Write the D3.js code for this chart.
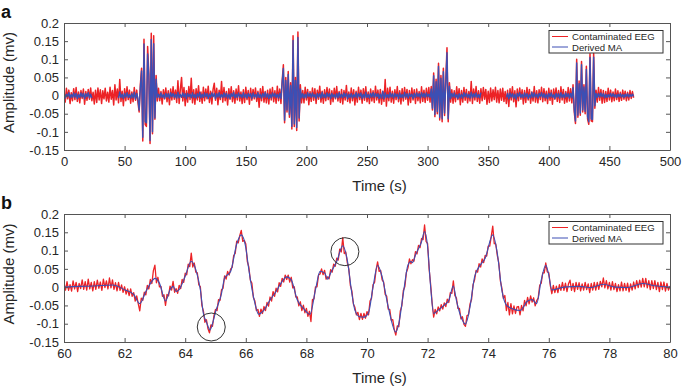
<!DOCTYPE html>
<html lang="en">
<head>
<meta charset="UTF-8">
<title>Contaminated EEG and derived MA</title>
<script src="https://d3js.org/d3.v7.min.js"></script>
<style>
    body { margin: 0; background: #fff; }
    svg { font-family: "Liberation Sans", Arial, Helvetica, sans-serif; }
</style>
</head>
<body>
<div id="chart"></div>
<script>
// ---- data (amplitudes in microvolts, i.e. mv * 1000) ----

// panel a: one sample per second, t = 0 .. 470 s
var eegA = [
    12,-18,20,-9,15,-22,8,-14,19,-11,
    22,-16,10,-20,14,-8,18,-24,11,-13,
    17,-10,21,-14,9,-23,15,-19,21,-12,
    16,-22,13,-9,20,-15,9,-18,23,-10,
    14,-26,30,-12,18,-20,44,-16,12,-28,
    19,-14,24,-11,15,-21,10,-17,22,-13,
    15,-18,-45,30,75,-125,155,-80,-85,135,60,-132,172,-105,165,-65,55,-15,
    20,-14,11,-23,16,-9,21,-17,13,-25,
    18,-12,24,-10,15,-19,41,-22,17,50,
    -15,22,-28,13,-18,25,-11,48,-20,16,
    -24,19,-12,27,-16,10,-21,23,-14,18,
    -9,26,-19,12,-23,17,34,-13,20,-25,
    15,-11,39,-18,22,-14,11,-26,19,-10,
    24,-17,13,-21,18,-12,27,-15,10,-22,
    16,-19,23,-11,14,-24,20,-13,17,-9,
    21,-16,12,-32,19,-14,25,-18,11,-20,
    15,-23,18,-12,22,-17,13,-21,26,-14,
    18,
    -22,40,85,-75,50,-45,66,-60,35,-92,165,-85,50,-96,175,-70,30,-20,
    14,-20,23,-12,17,-25,11,-16,21,-13,
    19,-22,15,-10,26,-18,12,-21,16,-14,
    22,-11,18,-24,13,-17,20,-9,25,-15,
    11,-19,17,-23,14,-12,28,-16,10,-20,
    21,-14,16,-26,12,-18,23,-11,15,-21,
    19,-13,24,-17,10,-22,18,-15,13,-19,
    26,-12,15,-20,17,-24,11,-16,44,-29,
    20,-14,23,-18,12,-21,16,-11,25,-17,
    13,-23,19,-15,22,-10,17,-26,14,-19,
    21,-12,16,-22,18,-14,11,-20,24,-16,
    15,-19,20,-13,22,
    -18,25,-40,62,-58,45,-50,89,-67,55,-72,75,-55,40,132,-72,35,-18,
    16,-21,13,-17,24,-11,19,-25,14,-18,
    22,-13,17,-20,11,-15,39,-22,18,-12,
    25,-16,13,-21,19,-14,22,-10,17,-24,
    12,-19,21,-15,16,-11,23,-18,14,-20,
    18,-13,20,-16,11,-22,15,-30,19,-12,
    24,-17,13,-31,18,-14,21,-10,16,-23,
    14,-19,22,-12,17,-21,10,-15,25,-18,
    13,-20,16,-11,23,-17,19,-14,12,-22,
    20,-13,15,-24,18,-10,21,-16,14,-19,
    24,-12,17,-21,11,-18,22,-15,19,
    -20,30,-45,-77,100,-60,40,-54,94,-45,30,-50,81,-65,-79,115,-70,-72,116,-35,15,
    -18,22,-13,17,-21,14,-19,11,-16,20,
    -12,15,-17,10,-14,18,-11,13,-16,9,
    -13,15,-10,12,-14,9,-12,14,-8,11,-6
];

// derived MA for panel a (null where it is not drawn)
var maA = [
    5,-7,4,-3,8,-6,3,-5,7,-4,
    6,-8,3,-5,7,-4,6,-9,5,-3,
    8,-6,4,-7,null,null,null,null,null,null,
    null,null,null,null,null,null,null,null,null,null,
    null,null,null,null,null,-7,10,-5,4,-8,
    6,-4,8,-5,3,-7,5,-6,9,-10,
    6,-8,-40,22,68,-115,142,-72,-75,115,55,-124,155,-100,143,-62,45,-5,
    4,-6,7,-5,3,-8,6,-4,5,-7,
    8,-3,6,-5,4,-7,9,-6,3,-5,
    7,-4,5,-8,6,-3,4,-6,8,-5,
    3,-7,5,-4,9,-6,4,-5,7,-3,
    6,-8,4,-5,7,-3,6,-9,5,-4,
    8,-6,3,-5,7,-4,6,-7,4,-8,
    5,-3,9,-6,4,-5,7,-4,3,-6,
    8,-5,4,-7,6,-3,5,-8,7,-4,
    3,-6,8,-5,4,-7,6,-4,9,-5,
    5,-8,4,-6,7,-3,6,-5,4,-7,
    6,
    -8,35,75,-68,42,-40,58,-52,28,-85,152,-78,42,-88,160,-62,18,-6,
    5,-7,4,-6,8,-3,6,-5,7,-4,
    3,-8,6,-4,5,-7,9,-5,4,-6,
    7,-3,5,-8,6,-4,3,-7,5,-6,
    8,-5,4,-6,7,-3,6,-9,4,-5,
    5,-7,3,-4,8,-6,5,-3,7,-8,
    4,-6,9,-5,3,-7,6,-4,8,-5,
    6,-3,5,-8,4,-7,12,-9,7,-5,
    3,-6,8,-4,5,-7,6,-3,4,-8,
    7,-5,3,-6,9,-4,5,-7,6,-3,
    4,-8,6,-5,7,-3,5,-6,8,-4,
    6,-5,7,-3,4,
    -5,18,-35,55,-52,38,-44,80,-60,48,-64,66,-48,34,118,-64,26,-8,
    6,-4,7,-5,3,-8,5,-6,4,-7,
    8,-3,6,-5,4,-7,9,-6,5,-4,
    7,-5,3,-6,8,null,null,null,null,null,
    null,null,null,null,null,null,null,null,null,null,
    null,null,null,null,null,-5,6,-9,7,-4,
    5,-7,4,-10,6,-3,8,-5,4,-6,
    7,-4,5,-8,3,-6,9,-5,7,-4,
    4,-7,6,-3,8,-5,5,-6,4,-8,
    6,-4,7,-5,3,-8,6,-4,5,-7,
    8,-5,4,-6,7,-3,5,-7,6,
    -6,22,-38,-70,90,-54,33,-48,85,-40,24,-44,72,-58,-72,105,-64,-66,106,-28,6,
    -5,6,-4,7,-3,5,-6,4,-5,3,
    -4,6,-3,5,-4,3,-5,4,-3,5,
    -4,3,-5,4,-3,5,-4,3,-2,4,-2
];

// panel b: contaminated EEG, one sample every 0.05 s from 60 s to 80 s
var eegB = [
    10,-8,15,-9,7,-11,17,-5,13,-12,10,-4,20,-6,15,-8,22,-5,13,-10,
    15,-6,19,-3,14,-9,22,-1,17,-5,25,-2,20,-6,12,-10,13,-9,6,-14,
    1,-19,-5,-23,-5,-25,-15,-38,-24,-45,-65,-30,-36,-14,-21,5,-5,21,10,45,
    60,12,27,1,2,-25,-21,-50,-20,-24,3,-8,16,-14,-4,-17,5,-4,21,13,
    38,34,63,56,93,55,66,41,39,6,1,-50,-65,-96,-89,-113,-125,-103,-107,-78,
    -61,-64,-34,-36,-7,-3,31,22,43,33,50,54,86,92,126,121,141,155,125,128,
    118,70,55,19,11,-28,-38,-64,-61,-80,-60,-72,-53,-64,-42,-52,-27,-38,-12,-25,
    -3,-13,12,2,24,14,33,21,33,14,27,-2,1,-27,-27,-51,-40,-64,-49,-70,
    -58,-80,-66,-94,-34,-32,1,1,33,36,50,34,46,22,28,23,48,41,63,57,
    79,74,104,96,135,92,96,67,50,5,-10,-46,-55,-76,-69,-89,-72,-88,-72,-85,
    -67,-76,-38,-30,7,13,47,69,43,46,20,14,-20,-25,-60,-61,-90,-89,-116,-131,
    -106,-108,-65,-51,-9,2,40,52,77,64,75,71,97,91,114,108,133,130,170,125,
    119,50,8,-44,-82,-61,-73,-54,-65,-48,-60,-43,-53,-33,-42,-15,-17,17,-23,-29,
    -58,-58,-87,-81,-102,-107,-78,-76,-46,-34,7,20,46,41,64,55,77,67,87,85,
    112,112,138,167,119,118,87,66,18,-2,-31,-23,-64,-42,-76,-45,-73,-51,-72,-54,
    -53,-76,-50,-65,-36,-51,-28,-46,-24,-41,-29,-51,-37,-30,5,11,39,39,66,42,
    39,4,-18,5,-15,3,-15,7,-9,13,-9,11,-12,9,19,-9,10,-12,13,-6,
    12,-10,9,-8,13,-7,9,-15,10,-8,13,-8,13,-6,16,1,25,-2,18,-5,
    13,-8,15,-7,10,-12,7,-10,14,-10,10,-9,11,-13,9,-8,14,-5,18,-1,
    19,0,24,1,24,-2,18,-7,18,-4,18,-7,13,-12,14,-7,14,-11,10,-8,
    3
];

// panel b: derived MA, read at its turning points
var maBTime = [
    60, 60.5, 61, 61.6, 62, 62.3, 62.5, 62.7, 62.9, 63, 63.15, 63.35, 63.5, 63.6, 63.7, 63.8,
    64, 64.2, 64.35, 64.5, 64.6, 64.7, 64.82, 64.9, 65, 65.2, 65.3, 65.5, 65.7, 65.85,
    66, 66.1, 66.3, 66.42, 66.6, 66.8, 67, 67.2, 67.35, 67.5, 67.7, 67.9, 68.12, 68.3,
    68.45, 68.6, 68.7, 68.8, 69, 69.2, 69.35, 69.5, 69.6, 69.75, 69.9, 70.05, 70.2, 70.35,
    70.5, 70.7, 70.95, 71.05, 71.2, 71.35, 71.45, 71.5, 71.6, 71.8, 71.9, 72, 72.1, 72.2,
    72.35, 72.55, 72.7, 72.85, 72.95, 73.1, 73.25, 73.4, 73.55, 73.7, 73.9, 74.15, 74.3,
    74.45, 74.6, 74.8, 75.05, 75.3, 75.45, 75.6, 75.75, 75.9, 76, 76.1, 76.5, 77, 77.4,
    77.8, 78.2, 78.6, 79.1, 79.5, 80
];
var maBValue = [
    0, 2, 3, 6, -7, -20, -45, -12, 16, 24, 11, -38, -7, 2, -12, -7,
    30, 71, 48, -7, -72, -95, -117, -100, -68, -17, 25, 43, 118, 143,
    108, 48, -44, -74, -63, -35, -12, 16, 28, 20, -35, -58, -74, -7,
    43, 39, 22, 39, 70, 113, 74, -17, -63, -81, -82, -70, 1, 60,
    28, -54, -123, -100, -17, 60, 70, 67, 88, 124, 152, 111, 1, -72,
    -63, -49, -36, 3, -36, -81, -101, -54, 28, 56, 79, 143, 93,
    -8, -49, -59, -64, -38, -34, -45, 19, 60, 33, -8, 0, 2, -1,
    8, 0, -1, 10, 4, 0
];

// circled points in panel b [time, mv]
var marks = [[64.86, -0.109], [69.27, 0.097]];

var xTicksA = d3.range(0, 501, 50);
var xTicksB = d3.range(60, 81, 2);
var yTicks = [-0.15, -0.1, -0.05, 0, 0.05, 0.1, 0.15, 0.2];
var legendNames = ["Contaminated EEG", "Derived MA"];

// ---- drawing ----
var w = 685, h = 388;
var red = "#ec2226", blue = "#3c4fb4", axisColor = "#555", textColor = "#262626";

var svg = d3.select("#chart").append("svg")
    .attr("width", w)
    .attr("height", h);

var fmt = function(d) { return String(+d.toFixed(2)); };

function panel(opt) {
    var x = d3.scaleLinear().domain(opt.xDomain).range([64, 670]);
    var y = d3.scaleLinear().domain([-0.15, 0.2]).range([opt.bottom, opt.top]);
    var g = svg.append("g");

    g.append("clipPath").attr("id", opt.id)
        .append("rect")
        .attr("x", 64).attr("y", opt.top)
        .attr("width", 606).attr("height", opt.bottom - opt.top);

    var plot = g.append("g").attr("clip-path", "url(#" + opt.id + ")");

    var redLine = d3.line()
        .x(function(d, i) { return x(opt.eegT(i)); })
        .y(function(d) { return y(d / 1000); });
    plot.append("path")
        .attr("d", redLine(opt.eeg))
        .attr("fill", "none")
        .attr("stroke", red)
        .attr("stroke-width", opt.redWidth)
        .attr("stroke-linejoin", "round");

    plot.append("path")
        .attr("d", opt.maLine(x, y))
        .attr("fill", "none")
        .attr("stroke", blue)
        .attr("stroke-width", opt.blueWidth)
        .attr("stroke-linejoin", "round");

    // box with inward ticks on all four sides
    g.append("g")
        .attr("transform", "translate(0," + opt.bottom + ")")
        .call(d3.axisBottom(x).tickValues(opt.xTicks).tickSizeInner(-4).tickSizeOuter(0).tickPadding(7));
    g.append("g")
        .attr("transform", "translate(0," + opt.top + ")")
        .call(d3.axisTop(x).tickValues(opt.xTicks).tickSizeInner(-4).tickSizeOuter(0).tickFormat(""));
    g.append("g")
        .attr("transform", "translate(64,0)")
        .call(d3.axisLeft(y).tickValues(yTicks).tickSizeInner(-4).tickSizeOuter(0).tickPadding(5).tickFormat(fmt));
    g.append("g")
        .attr("transform", "translate(670,0)")
        .call(d3.axisRight(y).tickValues(yTicks).tickSizeInner(-4).tickSizeOuter(0).tickFormat(""));

    g.selectAll(".domain").attr("stroke", axisColor);
    g.selectAll(".tick line").attr("stroke", axisColor);
    g.selectAll(".tick text")
        .attr("fill", textColor)
        .attr("font-size", "13px")
        .attr("font-family", "Liberation Sans, Arial, sans-serif");

    g.append("text")
        .attr("x", 379.5).attr("y", opt.bottom + 41)
        .attr("text-anchor", "middle")
        .attr("font-size", "15px")
        .attr("fill", textColor)
        .text("Time (s)");

    g.append("text")
        .attr("transform", "translate(14," + ((opt.top + opt.bottom) / 2 - 4) + ") rotate(-90)")
        .attr("text-anchor", "middle")
        .attr("font-size", "15px")
        .attr("fill", textColor)
        .text("Amplitude (mv)");

    g.append("text")
        .attr("x", 1).attr("y", opt.top - 5)
        .attr("font-size", "18px")
        .attr("font-weight", "bold")
        .attr("fill", "#111")
        .text(opt.letter);

    // legend
    var lg = g.append("g").attr("transform", "translate(549," + (opt.top + 7.5) + ")");
    lg.append("rect")
        .attr("width", 114).attr("height", 22.5)
        .attr("fill", "#fff")
        .attr("stroke", "#333")
        .attr("stroke-width", 1);
    legendNames.forEach(function(name, i) {
        lg.append("line")
            .attr("x1", 3).attr("x2", 19)
            .attr("y1", 6 + i * 10.5).attr("y2", 6 + i * 10.5)
            .attr("stroke", i === 0 ? red : blue)
            .attr("stroke-width", 1);
        lg.append("text")
            .attr("x", 23).attr("y", 9.6 + i * 10.5)
            .attr("font-size", "9.6px")
            .attr("fill", textColor)
            .text(name);
    });

    return { g: g, x: x, y: y };
}

panel({
    id: "clipA", letter: "a", top: 23, bottom: 150,
    xDomain: [0, 500], xTicks: xTicksA,
    eeg: eegA, eegT: function(i) { return i; },
    redWidth: 1.5, blueWidth: 1.4,
    maLine: function(x, y) {
        return d3.line()
            .defined(function(d) { return d !== null; })
            .x(function(d, i) { return x(i); })
            .y(function(d) { return y(d / 1000); })(maA);
    }
});

var pb = panel({
    id: "clipB", letter: "b", top: 214, bottom: 342,
    xDomain: [60, 80], xTicks: xTicksB,
    eeg: eegB, eegT: function(i) { return 60 + i * 0.05; },
    redWidth: 1.3, blueWidth: 1.1,
    maLine: function(x, y) {
        return d3.line()
            .curve(d3.curveMonotoneX)
            .x(function(d, i) { return x(maBTime[i]); })
            .y(function(d) { return y(d / 1000); })(maBValue);
    }
});

pb.g.selectAll(".mark")
    .data(marks)
    .enter()
    .append("circle")
    .attr("class", "mark")
    .attr("cx", function(d) { return pb.x(d[0]); })
    .attr("cy", function(d) { return pb.y(d[1]); })
    .attr("r", 14)
    .attr("fill", "none")
    .attr("stroke", "#333")
    .attr("stroke-width", 1);
</script>
</body>
</html>
